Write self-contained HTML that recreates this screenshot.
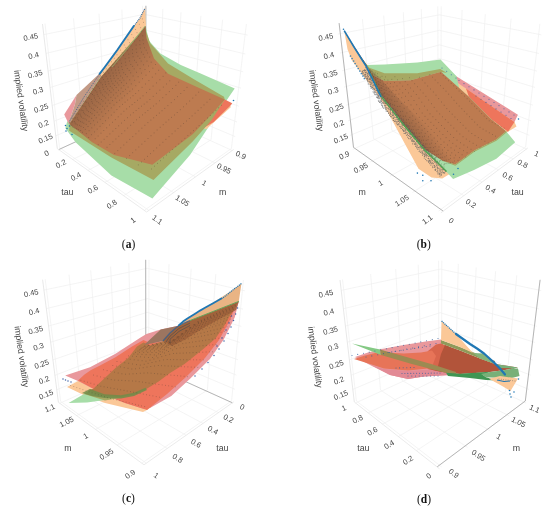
<!DOCTYPE html>
<html lang="en"><head><meta charset="utf-8"><title>Implied volatility surfaces</title>
<style>html,body{margin:0;padding:0;background:#fff}body{width:550px;height:508px;overflow:hidden}svg{display:block}</style>
</head><body>
<svg width="550" height="508" viewBox="0 0 550 508" font-family="'Liberation Sans', sans-serif">
<rect width="550" height="508" fill="#fff"/>
<g id="panel-a">
<line x1="58.7" y1="149.6" x2="145.7" y2="109.7" stroke="#efefef" stroke-width="0.7"/>
<line x1="72.7" y1="159.5" x2="160.3" y2="116.3" stroke="#efefef" stroke-width="0.7"/>
<line x1="88.1" y1="170.4" x2="176" y2="123.4" stroke="#efefef" stroke-width="0.7"/>
<line x1="104.9" y1="182.4" x2="193" y2="131.1" stroke="#efefef" stroke-width="0.7"/>
<line x1="123.6" y1="195.7" x2="211.4" y2="139.5" stroke="#efefef" stroke-width="0.7"/>
<line x1="144.3" y1="210.4" x2="231.4" y2="148.5" stroke="#efefef" stroke-width="0.7"/>
<line x1="59.4" y1="147.6" x2="148.8" y2="210.4" stroke="#efefef" stroke-width="0.7"/>
<line x1="83.3" y1="136.7" x2="173.6" y2="192.6" stroke="#efefef" stroke-width="0.7"/>
<line x1="105" y1="126.9" x2="195.5" y2="176.9" stroke="#efefef" stroke-width="0.7"/>
<line x1="124.7" y1="117.9" x2="214.9" y2="162.9" stroke="#efefef" stroke-width="0.7"/>
<line x1="142.8" y1="109.7" x2="232.2" y2="150.5" stroke="#efefef" stroke-width="0.7"/>
<line x1="59.5" y1="147.6" x2="45" y2="23.5" stroke="#efefef" stroke-width="0.7"/>
<line x1="83.8" y1="136.5" x2="73.5" y2="18.4" stroke="#efefef" stroke-width="0.7"/>
<line x1="105.6" y1="126.6" x2="99" y2="13.7" stroke="#efefef" stroke-width="0.7"/>
<line x1="125.1" y1="117.7" x2="121.9" y2="9.6" stroke="#efefef" stroke-width="0.7"/>
<line x1="142.8" y1="109.6" x2="142.6" y2="5.8" stroke="#efefef" stroke-width="0.7"/>
<line x1="55.8" y1="135.8" x2="144.2" y2="98.3" stroke="#efefef" stroke-width="0.7"/>
<line x1="54" y1="121.2" x2="144.2" y2="86.2" stroke="#efefef" stroke-width="0.7"/>
<line x1="52.2" y1="105.5" x2="144.2" y2="73.2" stroke="#efefef" stroke-width="0.7"/>
<line x1="50" y1="87.5" x2="144.2" y2="58.3" stroke="#efefef" stroke-width="0.7"/>
<line x1="48.1" y1="71.1" x2="144.2" y2="44.6" stroke="#efefef" stroke-width="0.7"/>
<line x1="46" y1="53.4" x2="144.2" y2="29.9" stroke="#efefef" stroke-width="0.7"/>
<line x1="43.8" y1="34.6" x2="144.2" y2="14.3" stroke="#efefef" stroke-width="0.7"/>
<line x1="145.6" y1="109.7" x2="145.9" y2="5.8" stroke="#efefef" stroke-width="0.7"/>
<line x1="160" y1="116.2" x2="162.8" y2="8.9" stroke="#efefef" stroke-width="0.7"/>
<line x1="175.6" y1="123.2" x2="181" y2="12.2" stroke="#efefef" stroke-width="0.7"/>
<line x1="192.6" y1="130.9" x2="200.9" y2="15.8" stroke="#efefef" stroke-width="0.7"/>
<line x1="211.1" y1="139.3" x2="222.6" y2="19.7" stroke="#efefef" stroke-width="0.7"/>
<line x1="231.4" y1="148.5" x2="246.4" y2="24" stroke="#efefef" stroke-width="0.7"/>
<line x1="144.2" y1="98.3" x2="235.2" y2="136.6" stroke="#efefef" stroke-width="0.7"/>
<line x1="144.2" y1="86.2" x2="237" y2="122" stroke="#efefef" stroke-width="0.7"/>
<line x1="144.2" y1="73.2" x2="238.9" y2="106.2" stroke="#efefef" stroke-width="0.7"/>
<line x1="144.2" y1="58.3" x2="241.1" y2="88.2" stroke="#efefef" stroke-width="0.7"/>
<line x1="144.2" y1="44.6" x2="243.2" y2="71.8" stroke="#efefef" stroke-width="0.7"/>
<line x1="144.2" y1="29.9" x2="245.4" y2="54" stroke="#efefef" stroke-width="0.7"/>
<line x1="144.2" y1="14.3" x2="247.7" y2="35.1" stroke="#efefef" stroke-width="0.7"/>
<line x1="58.7" y1="149.6" x2="145.7" y2="109.7" stroke="#999999" stroke-width="0.7"/>
<line x1="145.6" y1="109.7" x2="145.9" y2="5.8" stroke="#999999" stroke-width="0.7"/>
<line x1="57.3" y1="148.6" x2="42.5" y2="24" stroke="#e2e2e2" stroke-width="0.8"/>
<line x1="57.3" y1="148.6" x2="146.6" y2="212" stroke="#e6e6e6" stroke-width="0.8"/>
<line x1="146.6" y1="212" x2="233.6" y2="149.5" stroke="#e6e6e6" stroke-width="0.8"/>
<polygon points="65.4,128.2 75.6,142.2 111.4,175.5 152.4,198.5 190,155 213.8,119 234.7,88.4 201.2,73.8 180.8,64.9 160.4,53.4 149,40.7 145.5,25.4 145,12 117.8,50 100,74 67,122" fill="#a7dda8"/>
<polygon points="145,7.5 146,26 138,36 100,78 99.6,73.9 117.3,50 140,17.9" fill="#fbc898"/>
<polygon points="231,107 206.4,129 200,128 224.8,99.5" fill="#fbc898"/>
<polygon points="64.2,114.6 76.5,95.1 75,104 68.5,123.5" fill="#e9989c"/>
<polygon points="76.5,95.1 99.6,73.5 101,76 69.5,124.3 68.5,123.5 75,104" fill="#c39a86"/>
<polygon points="224.8,99.5 232.2,103.2 231,105 213.8,122 200,130" fill="#ee755c"/>
<polygon points="69.2,130.7 111.4,157.6 153.5,180 192.9,141.3 211.3,120.4 224.8,99.5 224,96.7 193.5,78.9 168,63.6 150.3,43.3 145.5,30 145.5,26 101,77 69.5,124" fill="#a6a963"/>
<polygon points="69.5,124 92.2,142.2 114,155 152.3,164.7 192.9,133.9 210,116 224.8,99.5 198.6,87.8 168,73.8 154,58.5 146.5,38.2 145.5,26 138,36 101,77" fill="#bd7b50"/>
<defs><linearGradient id="ga" gradientUnits="userSpaceOnUse" x1="100" y1="78" x2="128" y2="100"><stop offset="0" stop-color="#5a4032" stop-opacity="0.38"/><stop offset="1" stop-color="#5a4032" stop-opacity="0"/></linearGradient></defs>
<polygon points="69.5,124 101,77 138,36 145.5,26 146.5,38.2 154,58.5 168,73.8 160,100 125,140 92,142" fill="url(#ga)"/>
<path d="M69.5 122.6h0M72.3 118.4h0M75.2 114.1h0M78 109.8h0M80.9 105.5h0M83.7 101.3h0M86.6 97h0M89.4 92.7h0M92.3 88.5h0M95.1 84.2h0M98 79.9h0M100.8 75.8h0M103.5 72.3h0M106.2 68.8h0M108.9 65.3h0M111.6 61.8h0M114.3 58.3h0M117 54.8h0M120.5 50.1h0M124.2 45h0M128 39.8h0M131.8 34.6h0M135.5 29.5h0M139.3 24.3h0M142.3 18.9h0M71.1 122.1h0M74 118h0M76.8 113.9h0M79.6 109.8h0M82.5 105.8h0M85.3 101.7h0M88.1 97.6h0M91 93.5h0M93.8 89.4h0M96.6 85.3h0M99.5 81.2h0M102.2 77.6h0M104.9 74.2h0M107.6 70.9h0M110.3 67.6h0M113 64.3h0M115.6 60.9h0M118.3 57.6h0M122.1 52.6h0M125.8 47.6h0M129.5 42.7h0M133.3 37.7h0M137 32.7h0M140.7 27.7h0M143.4 22.4h0M69.9 125.7h0M72.7 121.8h0M75.6 117.9h0M78.4 114h0M81.2 110.1h0M84 106.2h0M86.8 102.3h0M89.6 98.4h0M92.4 94.5h0M95.2 90.6h0M98.1 86.7h0M100.9 82.8h0M103.6 79.5h0M106.2 76.3h0M108.9 73.2h0M111.6 70h0M114.2 66.9h0M116.9 63.7h0M119.9 60.1h0M123.5 55.3h0M127.2 50.6h0M130.9 45.8h0M134.6 41h0M138.3 36.2h0M141.7 31.4h0M71.7 125.3h0M74.5 121.6h0M77.3 117.9h0M80.1 114.2h0M82.9 110.5h0M85.7 106.9h0M88.5 103.2h0M91.3 99.5h0M94.1 95.8h0M96.9 92.1h0M99.6 88.4h0M102.4 84.8h0M105.1 81.9h0M107.7 78.9h0M110.3 76h0M113 73.1h0M115.6 70.1h0M118.3 67.2h0M121.5 63.3h0M125.2 58.7h0M128.8 54.2h0M132.5 49.7h0M136.1 45.1h0M139.8 40.6h0M142.8 35.8h0M72.3 126.6h0M75.1 123h0M77.9 119.5h0M80.7 115.9h0M83.5 112.3h0M86.2 108.7h0M89 105.1h0M91.8 101.6h0M94.6 98h0M97.3 94.4h0M100.1 90.8h0M102.9 87.3h0M105.5 84.4h0M108.2 81.5h0M110.8 78.7h0M113.4 75.9h0M116 73h0M118.7 70.2h0M121.7 66.7h0M125.4 62.2h0M129 57.8h0M132.6 53.4h0M136.2 49h0M139.9 44.6h0M143 40h0M73.2 127.5h0M76 124.1h0M78.8 120.6h0M81.5 117.1h0M84.3 113.7h0M87.1 110.2h0M89.8 106.7h0M92.6 103.3h0M95.4 99.8h0M98.1 96.3h0M100.9 92.9h0M103.7 89.4h0M106.3 86.6h0M108.9 83.8h0M111.5 81.1h0M114.1 78.4h0M116.7 75.6h0M119.3 72.9h0M122.3 69.5h0M125.9 65.3h0M129.5 61h0M133.1 56.7h0M136.7 52.4h0M140.3 48.1h0M143.5 43.7h0M74.9 128.2h0M77.6 124.9h0M80.4 121.6h0M83.1 118.3h0M85.9 114.9h0M88.6 111.6h0M91.4 108.3h0M94.1 105h0M96.9 101.6h0M99.6 98.3h0M102.4 95h0M105.1 91.7h0M107.7 89h0M110.3 86.4h0M112.9 83.8h0M115.5 81.2h0M118.1 78.6h0M120.7 76h0M123.7 72.7h0M127.3 68.6h0M130.8 64.5h0M134.4 60.3h0M137.9 56.2h0M141.5 52.1h0M144.6 47.8h0M76.7 128.7h0M79.5 125.4h0M82.2 122.2h0M85 118.9h0M87.7 115.7h0M90.5 112.5h0M93.2 109.2h0M95.9 106h0M98.7 102.7h0M101.4 99.5h0M104.2 96.3h0M106.9 93.1h0M109.5 90.6h0M112.1 88h0M114.7 85.5h0M117.3 83h0M119.9 80.5h0M122.5 77.9h0M125.6 74.5h0M129.2 70.4h0M132.7 66.4h0M136.2 62.4h0M139.8 58.4h0M143.3 54.4h0M146.2 50.2h0M78.3 129.5h0M81 126.3h0M83.8 123.2h0M86.5 120h0M89.2 116.8h0M92 113.7h0M94.7 110.5h0M97.5 107.4h0M100.2 104.2h0M103 101.1h0M105.7 97.9h0M108.4 94.9h0M111 92.4h0M113.6 89.9h0M116.2 87.5h0M118.8 85h0M121.4 82.6h0M123.9 80.1h0M127.2 76.7h0M130.7 72.8h0M134.2 68.9h0M137.7 65h0M141.2 61.1h0M144.7 57.2h0M147.5 53h0M80.7 130.5h0M83.5 127.5h0M86.2 124.4h0M89 121.4h0M91.7 118.4h0M94.5 115.4h0M97.2 112.3h0M99.9 109.3h0M102.7 106.3h0M105.4 103.2h0M108.2 100.2h0M110.9 97.4h0M113.5 95h0M116.1 92.7h0M118.6 90.3h0M121.2 88h0M123.8 85.6h0M126.4 83.3h0M129.7 79.8h0M133.1 76h0M136.6 72.3h0M140.1 68.6h0M143.5 64.8h0M147 61.1h0M149.7 57.1h0M82.5 132.3h0M85.3 129.4h0M88 126.5h0M90.7 123.6h0M93.5 120.7h0M96.2 117.8h0M99 114.9h0M101.7 112h0M104.4 109.1h0M107.2 106.2h0M109.9 103.3h0M112.6 100.5h0M115.3 98.2h0M117.8 96h0M120.4 93.8h0M123 91.5h0M125.5 89.3h0M128.1 87.1h0M131.3 83.9h0M134.7 80.3h0M138.1 76.7h0M141.5 73.1h0M145 69.5h0M148.4 66h0M151.2 62.2h0M86.3 133.6h0M89.1 130.7h0M91.8 127.9h0M94.6 125h0M97.4 122.2h0M100.2 119.3h0M102.9 116.4h0M105.7 113.6h0M108.5 110.7h0M111.3 107.9h0M114 105h0M116.8 102.4h0M119.4 100.2h0M122 98h0M124.6 95.8h0M127.2 93.6h0M129.8 91.3h0M132.4 89.1h0M135.8 85.7h0M139.2 82.2h0M142.6 78.7h0M146 75.2h0M149.4 71.7h0M152.9 68.2h0M155.5 64.5h0M88.7 137.5h0M91.6 134.7h0M94.4 131.9h0M97.2 129.1h0M100 126.3h0M102.8 123.5h0M105.6 120.7h0M108.5 117.9h0M111.3 115.1h0M114.1 112.3h0M116.9 109.5h0M119.7 106.7h0M122.5 104.4h0M125.1 102.2h0M127.7 100h0M130.4 97.9h0M133 95.7h0M135.7 93.5h0M138.7 90.7h0M142.1 87.4h0M145.5 84h0M148.9 80.6h0M152.3 77.2h0M155.7 73.8h0M158.7 70.3h0M95.2 138.7h0M98.1 136h0M101 133.2h0M103.8 130.5h0M106.7 127.8h0M109.6 125h0M112.4 122.3h0M115.3 119.6h0M118.2 116.8h0M121.1 114.1h0M123.9 111.3h0M126.7 108.9h0M129.5 106.7h0M132.1 104.6h0M134.8 102.5h0M137.5 100.3h0M140.2 98.2h0M143 95.8h0M146.4 92.6h0M149.8 89.4h0M153.1 86.1h0M156.5 82.9h0M159.9 79.7h0M163.1 76.4h0M165.8 72.9h0M98.2 144.7h0M101.2 142h0M104.1 139.3h0M107 136.6h0M109.9 133.9h0M112.9 131.2h0M115.8 128.5h0M118.7 125.8h0M121.6 123.1h0M124.6 120.4h0M127.5 117.7h0M130.4 115h0M133.3 112.7h0M136.1 110.5h0M138.8 108.4h0M141.5 106.2h0M144.2 104.1h0M147 102h0M149.9 99.5h0M153.2 96.4h0M156.6 93.3h0M159.9 90.2h0M163.3 87.1h0M166.6 84h0M169.8 80.8h0M107 147.3h0M109.9 144.5h0M112.9 141.8h0M115.9 139h0M118.8 136.3h0M121.8 133.6h0M124.8 130.8h0M127.7 128.1h0M130.7 125.3h0M133.7 122.6h0M136.6 119.8h0M139.5 117.3h0M142.4 114.9h0M145.2 112.7h0M147.9 110.5h0M150.7 108.3h0M153.4 106h0M156.2 103.8h0M159.5 100.8h0M162.8 97.7h0M166.1 94.6h0M169.3 91.6h0M172.6 88.5h0M175.9 85.4h0M178.7 82.2h0M114.8 153.4h0M117.8 150.6h0M120.8 147.8h0M123.8 145h0M126.8 142.2h0M129.8 139.4h0M132.8 136.6h0M135.9 133.8h0M138.9 131h0M141.9 128.2h0M144.9 125.3h0M147.9 122.6h0M150.9 120.1h0M153.7 117.8h0M156.5 115.4h0M159.3 113.1h0M162 110.7h0M164.8 108.4h0M167.9 105.6h0M171.2 102.6h0M174.4 99.6h0M177.6 96.6h0M180.8 93.5h0M184.1 90.5h0M187 87.4h0M126.6 158.4h0M129.7 155.6h0M132.7 152.7h0M135.8 149.9h0M138.8 147h0M141.9 144.2h0M144.9 141.4h0M148 138.5h0M151 135.7h0M154.1 132.9h0M157.1 130h0M160.2 127.3h0M163.2 124.7h0M166 122.2h0M168.8 119.8h0M171.6 117.4h0M174.4 115h0M177.2 112.5h0M180.3 109.7h0M183.4 106.8h0M186.5 103.9h0M189.7 101h0M192.8 98.1h0M195.9 95.2h0M198.7 92.2h0M138.3 164.9h0M141.4 162.1h0M144.5 159.3h0M147.5 156.4h0M150.6 153.6h0M153.7 150.8h0M156.7 147.9h0M159.8 145.1h0M162.9 142.3h0M165.9 139.4h0M169 136.6h0M172.1 133.8h0M175.1 131h0M178 128.5h0M180.8 126h0M183.6 123.5h0M186.4 121h0M189.3 118.5h0M192.1 115.9h0M195.1 113.2h0M198.1 110.4h0M201.1 107.7h0M204 104.9h0M207 102.2h0M209.9 99.4h0M151.4 169h0M154.4 166.2h0M157.5 163.4h0M160.5 160.7h0M163.6 157.9h0M166.6 155.1h0M169.7 152.3h0M172.7 149.5h0M175.8 146.7h0M178.8 144h0M181.8 141.2h0M184.9 138.4h0M187.9 135.6h0M190.8 133.1h0M193.6 130.6h0M196.3 128.1h0M199.1 125.6h0M201.9 123.1h0M204.7 120.6h0M207.5 118h0M210.3 115.5h0M213.1 112.9h0M215.9 110.4h0M218.7 107.8h0M221.5 105.3h0" stroke="#4a3a30" stroke-opacity="0.42" stroke-width="0.9" stroke-linecap="round" fill="none"/>
<polyline points="144.6,9 140,17.9 133.8,26" fill="none" stroke="#3d6f9e" stroke-width="1.2" stroke-dasharray="1 0.9"/>
<polyline points="133.8,26 117.3,50 103.7,68.5 99.6,73.9" fill="none" stroke="#1f77b4" stroke-width="1.9" stroke-linecap="round"/>
<polyline points="145,26 128,48 112,67" fill="none" stroke="#8fbf7a" stroke-width="0.7"/>
<polyline points="99.6,73.9 84,97 69,122" fill="none" stroke="#5b6f86" stroke-width="1.0" stroke-dasharray="1.2 1"/>
<path d="M65.5 125.5h0M67 128.5h0M66 131h0M72 134.5h0M69.5 126h0" stroke="#1f77b4" stroke-width="1.6" stroke-linecap="round"/>
<path d="M233.5 100.5h0" stroke="#1f77b4" stroke-width="1.6" stroke-linecap="round"/>
<text x="30.7" y="37.2" font-size="7.6" fill="#444" text-anchor="middle" dominant-baseline="central" transform="rotate(-11.4 30.7 37.2)">0.45</text>
<text x="33.6" y="55.6" font-size="7.6" fill="#444" text-anchor="middle" dominant-baseline="central" transform="rotate(-13.4 33.6 55.6)">0.4</text>
<text x="35.2" y="74.2" font-size="7.6" fill="#444" text-anchor="middle" dominant-baseline="central" transform="rotate(-15.4 35.2 74.2)">0.35</text>
<text x="38" y="90.8" font-size="7.6" fill="#444" text-anchor="middle" dominant-baseline="central" transform="rotate(-17.3 38 90.8)">0.3</text>
<text x="41.2" y="108.2" font-size="7.6" fill="#444" text-anchor="middle" dominant-baseline="central" transform="rotate(-19.3 41.2 108.2)">0.25</text>
<text x="43.6" y="124" font-size="7.6" fill="#444" text-anchor="middle" dominant-baseline="central" transform="rotate(-21.2 43.6 124)">0.2</text>
<text x="45.6" y="138.6" font-size="7.6" fill="#444" text-anchor="middle" dominant-baseline="central" transform="rotate(-22.9 45.6 138.6)">0.15</text>
<text x="21.3" y="100.6" font-size="8.8" fill="#444" text-anchor="middle" dominant-baseline="central" transform="rotate(82 21.3 100.6)">implied volatility</text>
<text x="46.7" y="153.3" font-size="7.6" fill="#444" text-anchor="middle" dominant-baseline="central" transform="rotate(-24.7 46.7 153.3)">0</text>
<text x="60.9" y="163.8" font-size="7.6" fill="#444" text-anchor="middle" dominant-baseline="central" transform="rotate(-26.3 60.9 163.8)">0.2</text>
<text x="75.9" y="176.6" font-size="7.6" fill="#444" text-anchor="middle" dominant-baseline="central" transform="rotate(-28.1 75.9 176.6)">0.4</text>
<text x="92.9" y="189.3" font-size="7.6" fill="#444" text-anchor="middle" dominant-baseline="central" transform="rotate(-30.2 92.9 189.3)">0.6</text>
<text x="111.9" y="204.3" font-size="7.6" fill="#444" text-anchor="middle" dominant-baseline="central" transform="rotate(-32.6 111.9 204.3)">0.8</text>
<text x="133.1" y="220.2" font-size="7.6" fill="#444" text-anchor="middle" dominant-baseline="central" transform="rotate(-35.4 133.1 220.2)">1</text>
<text x="157.3" y="219.8" font-size="7.6" fill="#444" text-anchor="middle" dominant-baseline="central" transform="rotate(35.1 157.3 219.8)">1.1</text>
<text x="182.4" y="200.7" font-size="7.6" fill="#444" text-anchor="middle" dominant-baseline="central" transform="rotate(31.8 182.4 200.7)">1.05</text>
<text x="204.2" y="183" font-size="7.6" fill="#444" text-anchor="middle" dominant-baseline="central" transform="rotate(29 204.2 183)">1</text>
<text x="224" y="168.5" font-size="7.6" fill="#444" text-anchor="middle" dominant-baseline="central" transform="rotate(26.6 224 168.5)">0.95</text>
<text x="240.8" y="155.2" font-size="7.6" fill="#444" text-anchor="middle" dominant-baseline="central" transform="rotate(24.5 240.8 155.2)">0.9</text>
<text x="67.4" y="192.2" font-size="8.8" fill="#444" text-anchor="middle" dominant-baseline="central">tau</text>
<text x="222.6" y="192.2" font-size="8.8" fill="#444" text-anchor="middle" dominant-baseline="central">m</text>
</g>
<g id="panel-b">
<line x1="352.7" y1="149.4" x2="440.9" y2="109.6" stroke="#efefef" stroke-width="0.7"/>
<line x1="370.2" y1="162" x2="459" y2="117.6" stroke="#efefef" stroke-width="0.7"/>
<line x1="390" y1="176.2" x2="479" y2="126.4" stroke="#efefef" stroke-width="0.7"/>
<line x1="412.6" y1="192.4" x2="501" y2="136.2" stroke="#efefef" stroke-width="0.7"/>
<line x1="438.6" y1="211.1" x2="525.6" y2="147" stroke="#efefef" stroke-width="0.7"/>
<line x1="353.5" y1="147.4" x2="443.2" y2="211.1" stroke="#efefef" stroke-width="0.7"/>
<line x1="373.5" y1="138.5" x2="463.8" y2="195.7" stroke="#efefef" stroke-width="0.7"/>
<line x1="391.8" y1="130.3" x2="482.1" y2="182.1" stroke="#efefef" stroke-width="0.7"/>
<line x1="408.5" y1="122.8" x2="498.5" y2="169.9" stroke="#efefef" stroke-width="0.7"/>
<line x1="423.9" y1="116" x2="513.2" y2="158.9" stroke="#efefef" stroke-width="0.7"/>
<line x1="438.1" y1="109.6" x2="526.5" y2="149" stroke="#efefef" stroke-width="0.7"/>
<line x1="353.5" y1="147.4" x2="339.1" y2="23.1" stroke="#efefef" stroke-width="0.7"/>
<line x1="373.5" y1="138.5" x2="362.4" y2="19.1" stroke="#efefef" stroke-width="0.7"/>
<line x1="391.8" y1="130.3" x2="383.7" y2="15.5" stroke="#efefef" stroke-width="0.7"/>
<line x1="408.5" y1="122.9" x2="403.3" y2="12.2" stroke="#efefef" stroke-width="0.7"/>
<line x1="423.9" y1="116" x2="421.3" y2="9.1" stroke="#efefef" stroke-width="0.7"/>
<line x1="438.1" y1="109.6" x2="437.8" y2="6.3" stroke="#efefef" stroke-width="0.7"/>
<line x1="349.8" y1="135.5" x2="439.5" y2="98.4" stroke="#efefef" stroke-width="0.7"/>
<line x1="348" y1="120.9" x2="439.5" y2="86.3" stroke="#efefef" stroke-width="0.7"/>
<line x1="346.2" y1="105.2" x2="439.5" y2="73.4" stroke="#efefef" stroke-width="0.7"/>
<line x1="344" y1="87.2" x2="439.5" y2="58.5" stroke="#efefef" stroke-width="0.7"/>
<line x1="342.1" y1="70.7" x2="439.5" y2="44.9" stroke="#efefef" stroke-width="0.7"/>
<line x1="340" y1="53" x2="439.5" y2="30.3" stroke="#efefef" stroke-width="0.7"/>
<line x1="337.8" y1="34.1" x2="439.5" y2="14.8" stroke="#efefef" stroke-width="0.7"/>
<line x1="440.9" y1="109.6" x2="441.2" y2="6.3" stroke="#efefef" stroke-width="0.7"/>
<line x1="458.9" y1="117.6" x2="462.1" y2="10" stroke="#efefef" stroke-width="0.7"/>
<line x1="478.7" y1="126.3" x2="485.3" y2="14.1" stroke="#efefef" stroke-width="0.7"/>
<line x1="500.9" y1="136.1" x2="511.1" y2="18.7" stroke="#efefef" stroke-width="0.7"/>
<line x1="525.6" y1="147" x2="539.9" y2="23.8" stroke="#efefef" stroke-width="0.7"/>
<line x1="439.5" y1="98.4" x2="529.3" y2="135.3" stroke="#efefef" stroke-width="0.7"/>
<line x1="439.5" y1="86.3" x2="531" y2="120.8" stroke="#efefef" stroke-width="0.7"/>
<line x1="439.5" y1="73.4" x2="532.9" y2="105.2" stroke="#efefef" stroke-width="0.7"/>
<line x1="439.5" y1="58.5" x2="535" y2="87.4" stroke="#efefef" stroke-width="0.7"/>
<line x1="439.5" y1="44.9" x2="536.9" y2="71.1" stroke="#efefef" stroke-width="0.7"/>
<line x1="439.5" y1="30.3" x2="539" y2="53.5" stroke="#efefef" stroke-width="0.7"/>
<line x1="439.5" y1="14.8" x2="541.3" y2="34.8" stroke="#efefef" stroke-width="0.7"/>
<line x1="353.5" y1="147.4" x2="443.2" y2="211.1" stroke="#999999" stroke-width="0.7"/>
<line x1="353.5" y1="147.4" x2="339.1" y2="23.1" stroke="#999999" stroke-width="0.7"/>
<line x1="440.9" y1="212.8" x2="527.8" y2="148" stroke="#e6e6e6" stroke-width="0.8"/>
<polygon points="344.2,30.7 347.5,49.3 351.8,60.2 366.5,80 379.5,97.3 392.5,121.1 406.6,147.1 418.5,168.8 431.5,177.4 442.3,178.5 472.5,160 506,133 516.5,126.5 514.5,122 455,76 366,65 354,47" fill="#fbc898"/>
<polygon points="441.3,72 455,75.5 517.9,114.8 514.5,122 466,88.5" fill="#e9989c"/>
<polygon points="466,88.5 514.5,122 508,131.8 490.9,118.9 468.9,96.8" fill="#ee755c"/>
<polygon points="344.2,30.7 354,47.1 366,65 384.5,64.5 417.3,62.4 440.5,59.6 456.5,76.2 459.2,88 468.9,96.8 490.9,118.9 506.1,131.3 515.2,142.3 496.4,158.8 474,170 453.1,179 446.6,172 425,151.5 403.3,125.5 381,97 366,66" fill="#a7dda8"/>
<polygon points="360,56 369.3,67.8 384.5,73.3 417.3,73.3 440.2,68.9 447,73 441.3,72 439.1,72.2 410.7,80.3 384.5,80.9 373.6,75.5 362,60" fill="#a6a963"/>
<polygon points="344.2,30.7 354,47.1 366,65.6 373.6,75.5 384.5,80.9 410.7,80.3 439.1,72.2 441.3,72 468.9,96.8 490.9,118.9 506.1,131.3 496.4,139.6 474.4,150.6 455.3,164.5 443,161 425,149.5 403.3,123.5 381,95 366,64 354,46" fill="#bd7b50"/>
<polygon points="443,161 455.3,165.8 474.4,151.8 496.4,140.8 507,132 506.1,131.3 496.4,139.6 474.4,150.6 455.3,164.5" fill="#a6a963"/>
<defs><linearGradient id="gb" gradientUnits="userSpaceOnUse" x1="403" y1="124" x2="418" y2="113"><stop offset="0" stop-color="#5a4032" stop-opacity="0.4"/><stop offset="1" stop-color="#5a4032" stop-opacity="0"/></linearGradient></defs>
<polygon points="344.2,30.7 354,47.1 366,65.6 380,78 400,100 430,130 462,158 455.3,164.5 443,161 425,149.5 403.3,123.5 381,95 366,64 354,46" fill="url(#gb)"/>
<path d="M350 40.2h0M353 45.2h0M356.1 50.2h0M359.5 55.6h0M362.9 61h0M366.4 66.4h0M369.8 72.4h0M373.1 79.2h0M376.5 86h0M379.8 92.8h0M383.1 99.6h0M386.9 104.4h0M390.7 109.2h0M394.5 113.9h0M398.3 118.7h0M402.1 123.5h0M406.1 128.4h0M410.4 133.4h0M414.7 138.5h0M419 143.6h0M423.3 148.6h0M427.7 153.4h0M432.4 157.6h0M437 161.8h0M441.7 166h0M353.7 46.4h0M356.7 51.2h0M359.8 56.1h0M363.1 61.3h0M366.5 66.5h0M369.9 71.7h0M373.2 77.9h0M376.4 84.5h0M379.7 91h0M382.9 97.6h0M386.3 103.6h0M390 108.2h0M393.8 112.8h0M397.5 117.4h0M401.2 121.9h0M404.9 126.5h0M408.9 131.3h0M413.2 136.1h0M417.4 141h0M421.6 145.9h0M425.8 150.7h0M430.2 155h0M434.8 159h0M439.4 163h0M444 167h0M354.5 47.7h0M357.4 52.3h0M360.3 56.9h0M363.4 61.7h0M366.7 66.7h0M370 71.7h0M373.3 76.7h0M376.5 83.1h0M379.6 89.4h0M382.8 95.8h0M386 102.2h0M389.4 107.4h0M393 111.8h0M396.7 116.2h0M400.3 120.5h0M404 124.9h0M407.6 129.3h0M411.6 134h0M415.8 138.6h0M419.9 143.3h0M424 147.9h0M428.1 152.5h0M432.6 156.4h0M437.1 160.2h0M441.6 164h0M358.3 53.7h0M361.1 58.2h0M364 62.6h0M367.1 67.3h0M370.3 72.1h0M373.6 76.9h0M376.8 82.1h0M379.8 88.2h0M382.9 94.4h0M386 100.5h0M389.1 106.6h0M392.6 111h0M396.2 115.2h0M399.7 119.4h0M403.3 123.6h0M406.8 127.8h0M410.5 132.1h0M414.5 136.5h0M418.5 141h0M422.5 145.4h0M426.6 149.9h0M430.7 154.1h0M435.1 157.7h0M439.5 161.3h0M443.9 164.9h0M360.8 57.7h0M363.6 61.9h0M366.4 66.1h0M369.3 70.6h0M372.5 75.2h0M375.7 79.8h0M378.8 84.6h0M381.8 90.5h0M384.8 96.4h0M387.9 102.3h0M390.9 108.2h0M394.2 112.7h0M397.7 116.7h0M401.2 120.7h0M404.6 124.7h0M408.1 128.7h0M411.6 132.7h0M415.5 137h0M419.5 141.3h0M423.4 145.5h0M427.4 149.7h0M431.4 153.9h0M435.7 157.3h0M440 160.7h0M444.3 164.1h0M363.6 62.1h0M366.3 66.1h0M369 70.1h0M371.9 74.3h0M375 78.7h0M378.1 83.1h0M381.2 87.7h0M384.1 93.4h0M387.1 99h0M390 104.7h0M393 110.4h0M396.2 114.8h0M399.6 118.6h0M403 122.5h0M406.4 126.3h0M409.8 130.1h0M413.2 133.9h0M417 137.9h0M420.8 142h0M424.7 146.1h0M428.6 150.1h0M432.5 154h0M436.7 157.2h0M440.9 160.4h0M445.1 163.6h0M367.8 68.6h0M370.4 72.4h0M373 76.1h0M375.9 80.1h0M378.9 84.3h0M381.9 88.4h0M384.8 92.8h0M387.7 98.1h0M390.5 103.5h0M393.4 108.9h0M396.2 114.3h0M399.4 118.3h0M402.7 121.8h0M406 125.4h0M409.3 128.9h0M412.5 132.5h0M415.8 136.1h0M419.6 139.9h0M423.3 143.7h0M427 147.5h0M430.8 151.2h0M434.6 154.8h0M438.7 157.7h0M442.8 160.7h0M446.9 163.6h0M370.1 70h0M372.7 73.8h0M375.3 77.5h0M378.2 81.5h0M381.2 85.5h0M384.1 89.6h0M387.1 94.1h0M389.9 99.4h0M392.7 104.7h0M395.6 110h0M398.4 115.3h0M401.6 118.9h0M404.9 122.4h0M408.1 125.9h0M411.4 129.4h0M414.6 133h0M418 136.5h0M421.7 140.3h0M425.4 144h0M429.1 147.7h0M432.8 151.3h0M436.7 154.8h0M440.7 157.7h0M444.8 160.5h0M448.9 163.4h0M372 71.1h0M374.7 74.8h0M377.3 78.4h0M380.1 82.4h0M383.1 86.4h0M386.1 90.4h0M389 94.9h0M391.8 100.1h0M394.6 105.3h0M397.5 110.5h0M400.3 115.7h0M403.5 119.2h0M406.7 122.7h0M409.9 126.1h0M413.2 129.6h0M416.4 133h0M419.7 136.5h0M423.4 140.2h0M427 143.9h0M430.7 147.6h0M434.5 151.1h0M438.3 154.4h0M442.3 157.3h0M446.3 160.1h0M450.4 162.9h0M375.2 72.9h0M377.8 76.5h0M380.4 80.1h0M383.3 84h0M386.2 87.9h0M389.2 91.8h0M392 96.3h0M394.8 101.4h0M397.7 106.5h0M400.5 111.6h0M403.3 116.4h0M406.5 119.8h0M409.7 123.2h0M412.9 126.6h0M416.1 130h0M419.2 133.3h0M422.6 136.8h0M426.2 140.4h0M429.8 144.1h0M433.4 147.6h0M437.1 151h0M440.9 154.1h0M444.9 156.9h0M448.9 159.6h0M452.9 162.3h0M377.6 73.7h0M380.2 77.2h0M382.8 80.8h0M385.7 84.5h0M388.6 88.3h0M391.5 92.2h0M394.4 96.5h0M397.1 101.4h0M399.9 106.4h0M402.7 111.3h0M405.5 116.2h0M408.6 119.6h0M411.8 122.9h0M414.9 126.2h0M418.1 129.5h0M421.2 132.8h0M424.5 136.2h0M428 139.7h0M431.6 143.2h0M435.2 146.7h0M438.8 150h0M442.6 153.1h0M446.5 155.7h0M450.4 158.4h0M454.4 161h0M382 76.3h0M384.6 79.7h0M387.2 83.2h0M390.1 86.9h0M392.9 90.6h0M395.8 94.3h0M398.6 98.7h0M401.4 103.5h0M404.2 108.3h0M406.9 113h0M409.8 117.4h0M412.9 120.6h0M416 123.8h0M419.1 127h0M422.1 130.2h0M425.2 133.4h0M428.5 136.8h0M432 140.2h0M435.5 143.6h0M439 146.9h0M442.6 150h0M446.4 152.8h0M450.3 155.3h0M454.1 157.9h0M458 160.4h0M385.4 76.9h0M387.9 80.1h0M390.5 83.4h0M393.2 86.8h0M396.1 90.4h0M398.9 94h0M401.7 97.7h0M404.5 102.3h0M407.2 106.8h0M410 111.4h0M412.7 115.9h0M415.6 119.3h0M418.7 122.4h0M421.7 125.5h0M424.7 128.6h0M427.7 131.6h0M430.8 134.7h0M434.2 138h0M437.5 141.3h0M441 144.5h0M444.5 147.5h0M448 150.4h0M451.8 152.8h0M455.6 155.2h0M459.4 157.6h0M391.8 79.4h0M394.4 82.6h0M397 85.9h0M399.8 89.3h0M402.7 92.8h0M405.5 96.3h0M408.3 100.5h0M411 104.9h0M413.7 109.3h0M416.5 113.6h0M419.3 117.4h0M422.3 120.4h0M425.2 123.4h0M428.2 126.4h0M431.2 129.5h0M434.2 132.5h0M437.4 135.7h0M440.7 138.9h0M444 142.1h0M447.5 145h0M451 147.8h0M454.6 150.2h0M458.3 152.5h0M462.1 154.8h0M465.8 157.1h0M394.9 76.7h0M397.4 79.8h0M400 82.9h0M402.7 86.2h0M405.6 89.5h0M408.4 92.9h0M411.2 96.3h0M414 100.5h0M416.7 104.7h0M419.5 108.8h0M422.2 113h0M425 116.4h0M427.9 119.4h0M430.9 122.4h0M433.8 125.4h0M436.7 128.4h0M439.7 131.3h0M442.9 134.5h0M446.1 137.6h0M449.3 140.7h0M452.8 143.4h0M456.2 146.1h0M459.8 148.4h0M463.5 150.6h0M467.1 152.8h0M402.5 78.6h0M405.2 81.6h0M407.8 84.7h0M410.6 88h0M413.4 91.2h0M416.3 94.5h0M419 98.2h0M421.8 102.2h0M424.5 106.2h0M427.3 110.1h0M430 113.8h0M432.9 116.7h0M435.8 119.6h0M438.7 122.5h0M441.5 125.5h0M444.4 128.4h0M447.4 131.4h0M450.6 134.4h0M453.7 137.5h0M457 140.2h0M460.4 142.7h0M463.9 145h0M467.4 147.2h0M471 149.3h0M474.6 151.4h0M409.4 77.7h0M412 80.7h0M414.7 83.7h0M417.5 86.7h0M420.3 89.9h0M423.1 93h0M425.9 96.4h0M428.7 100h0M431.4 103.7h0M434.2 107.4h0M436.9 111.1h0M439.7 113.9h0M442.5 116.8h0M445.3 119.6h0M448.1 122.4h0M450.9 125.3h0M453.8 128.1h0M456.8 131.1h0M459.8 134h0M463 136.7h0M466.3 139.1h0M469.7 141.3h0M473.1 143.3h0M476.6 145.3h0M480.1 147.3h0M419.6 77.3h0M422.3 80.1h0M425 83h0M427.7 86h0M430.5 89h0M433.3 92h0M436 95.2h0M438.7 98.6h0M441.5 102h0M444.2 105.3h0M446.8 108.6h0M449.5 111.4h0M452.2 114.2h0M454.9 117h0M457.6 119.7h0M460.3 122.5h0M463.1 125.3h0M465.9 128.2h0M468.8 131h0M471.8 133.5h0M475 135.6h0M478.3 137.6h0M481.6 139.5h0M484.9 141.3h0M488.3 143.2h0M429.9 74.5h0M432.5 77.2h0M435.2 80h0M437.9 82.8h0M440.6 85.6h0M443.3 88.4h0M446 91.2h0M448.7 94.2h0M451.4 97.2h0M454 100.3h0M456.7 103.3h0M459.2 106h0M461.8 108.7h0M464.3 111.4h0M466.9 114h0M469.5 116.7h0M472 119.4h0M474.7 122.1h0M477.3 124.8h0M480 127.4h0M483.1 129.2h0M486.1 131h0M489.3 132.8h0M492.4 134.5h0M495.5 136.2h0M440.5 73.1h0M443.2 75.6h0M445.8 78.2h0M448.5 80.7h0M451.2 83.3h0M453.8 85.8h0M456.5 88.4h0M459.1 91h0M461.8 93.5h0M464.5 96.1h0M467.1 98.7h0M469.5 101.2h0M471.9 103.7h0M474.4 106.2h0M476.8 108.6h0M479.3 111.1h0M481.7 113.6h0M484.2 116.1h0M486.7 118.6h0M489.2 120.8h0M492.2 122.3h0M495.2 123.8h0M498.1 125.3h0M501.1 126.7h0M504.1 128.2h0" stroke="#4a3a30" stroke-opacity="0.42" stroke-width="0.9" stroke-linecap="round" fill="none"/>
<path d="M362.3 71.4h0M362.5 72.8h0M362.9 74.1h0M364 75.6h0M365 77h0M365.9 78h0M366.9 79.1h0M367.4 80.8h0M368 81.8h0M368.3 83.9h0M370 84.6h0M370.4 86.6h0M371.4 86.9h0M371.1 88.3h0M372.9 89.5h0M373.1 91.8h0M374 92.8h0M374.5 94.1h0M375.8 94.6h0M376.5 97h0M377.2 97.5h0M378 98.5h0M378.4 100.8h0M378.9 101.3h0M379.5 102.3h0M381.2 103.8h0M381.8 105.5h0M382.6 106.9h0M383.8 108.2h0M385.5 108.9h0M386.2 110.9h0M387.3 111.5h0M388.5 113.5h0M389.6 115.2h0M390.7 116.4h0M391.3 116.8h0M393.1 118.4h0M393.4 120.4h0M394.7 121.4h0M396.3 122.9h0M397.2 124.1h0M397.9 124.8h0M399.7 126.3h0M400.8 127.9h0M401.5 128.5h0M403 130.2h0M403.6 131.5h0M404.2 133.4h0M405.7 133.6h0M406.8 135.3h0M407.8 137.2h0M408.7 138.6h0M410.1 138.8h0M411.5 140.9h0M412.7 141.6h0M412.7 143.8h0M414.4 144.1h0M415.6 146.2h0M416.8 147.5h0M417 147.9h0M417.9 149.3h0M419.2 151.6h0M420.7 152.5h0M422.1 153.3h0M422.5 155.1h0M424.4 156.4h0M424.3 158h0M425.7 159.3h0M426.9 160.7h0M428.4 161.6h0M428.8 162.3h0M429.8 163.6h0M430.9 165.1h0M432.7 166.8h0M432.9 167.6h0M435.1 169.5h0M435.3 170.4h0M437 171.6h0M437.9 173.8h0M439.3 174.3h0M439.9 176h0M362.6 71h0M363.3 72.9h0M364.7 74.3h0M365.1 76.1h0M366.2 76.6h0M366.9 78.4h0M367.8 79.1h0M367.8 80.5h0M369.2 81.6h0M370.1 82.7h0M370.3 84.9h0M371 86h0M372.1 87.6h0M372.6 87.9h0M373.9 90h0M374.8 91.5h0M374.5 92h0M376 94.1h0M377.2 94.9h0M377.9 96.3h0M378 97.4h0M379 98.8h0M380.2 100.5h0M380.3 101.9h0M380.9 102.2h0M381.9 103.9h0M382.8 105.8h0M384.9 106h0M385.2 107.6h0M386.2 109.5h0M387.5 111h0M388.9 112.2h0M390.3 113.5h0M390.9 114.4h0M392.4 115.4h0M393.1 117.1h0M393.6 118.4h0M395.2 119.9h0M396.1 121.4h0M397.5 121.8h0M398.8 123.6h0M399 124.7h0M400.9 126.6h0M401.1 128h0M402.6 129.3h0M404 130.4h0M405 131.5h0M405.8 132.7h0M407.4 134.3h0M408.5 135.5h0M409.7 136.3h0M410.5 137.8h0M411.3 139h0M412.4 140.2h0M413.7 141.7h0M415.2 143.3h0M415.3 144.3h0M416.6 146h0M418.3 147.4h0M419.1 148h0M419.7 150h0M421.1 151.2h0M422.3 152.4h0M423.3 153.8h0M424.4 154.7h0M425.2 155.6h0M426.3 156.9h0M428.1 158.3h0M429 160.4h0M429.9 161.4h0M430.4 162.6h0M431.7 163.6h0M433.1 165h0M434.5 167h0M434.8 167.3h0M435.8 169.1h0M437.5 170.1h0M438 172.1h0M439.3 173.2h0M440.2 173.8h0M441.2 175.2h0M363.7 70.5h0M364.3 70.8h0M365.2 72.2h0M365.6 74.2h0M365.8 74.9h0M367.6 76.8h0M367.9 78.1h0M369.2 79.4h0M369.8 79.8h0M370.3 81.8h0M371.1 83.2h0M371.1 84.5h0M372.7 85.2h0M372.9 86.9h0M373.8 88.4h0M374.6 89.7h0M376.1 90.4h0M375.8 92.4h0M377 93.8h0M377.9 95.1h0M378.6 95.8h0M378.8 96.9h0M379.5 98h0M381.1 99.1h0M381.4 101.4h0M382.7 102.5h0M383.2 103.5h0M384.8 105.4h0M385.4 105.9h0M386.5 107.8h0M387.9 108.2h0M389 109.7h0M390.4 111.1h0M390.6 112.8h0M392.7 113.8h0M393.6 115.3h0M394.5 117.1h0M395.9 117.3h0M396.8 119.2h0M398.2 120.2h0M398.5 121.3h0M399.7 122.6h0M401.1 124.8h0M402.2 126h0M402.9 127.4h0M404.1 128.7h0M405.4 129.2h0M405.8 130.4h0M406.9 132.2h0M408 133h0M409.9 134.7h0M410.9 136.1h0M411.7 137.4h0M412.8 139.1h0M413.8 140.5h0M414.4 141.7h0M415.6 142.8h0M416.5 144h0M417.6 145.8h0M419.8 146.9h0M420.9 147.5h0M421.1 148.8h0M422.7 151h0M424.2 152h0M425 153.6h0M425.7 154.1h0M426.5 155.2h0M428.3 156.6h0M428.8 158.7h0M429.9 160.2h0M430.9 161h0M432.1 162.7h0M433.2 163.4h0M434.5 165.3h0M435 166.4h0M437.1 166.9h0M437.7 168.5h0M439.2 170.1h0M440.1 171.3h0M441.1 172.4h0M441.4 174h0M364.4 70.1h0M364.9 70.3h0M365.6 72.5h0M367.1 73.6h0M367.8 74.2h0M367.6 75.5h0M368.6 76.7h0M369.7 78.3h0M370.7 79.3h0M371.4 80.7h0M372 82.1h0M372.1 83.2h0M373.6 84.9h0M374.2 85.8h0M375 88h0M376.1 88.8h0M377 90.5h0M377.3 90.8h0M377.5 92.1h0M378.7 93.7h0M380.1 94.8h0M380.8 96.8h0M381.4 97.9h0M382 99h0M382 100.2h0M383.6 101.9h0M384.6 102.9h0M385.3 103.7h0M387.2 105.4h0M388.5 106.5h0M388.8 108.2h0M390.4 109.4h0M390.7 110.6h0M392.3 112.3h0M393.7 112.9h0M393.9 114.7h0M395.9 115.4h0M396.8 117.5h0M397.7 119.1h0M399 119.3h0M399.9 121.6h0M401.4 122.7h0M402.3 123.9h0M402.9 125.2h0M404.5 126.2h0M405.8 127.4h0M406.7 128.8h0M407.8 130.2h0M409 131.5h0M409.3 133.3h0M410.5 134.5h0M412.2 135.2h0M412.6 136.5h0M413.6 138h0M414.6 139h0M416.4 141.1h0M416.8 141.7h0M418 143.9h0M419.7 144.7h0M420.3 146.4h0M421.6 147.8h0M423 148.6h0M423.4 150.5h0M424.5 150.8h0M425.9 152.4h0M426.7 154.1h0M427.8 155.3h0M429.6 156.1h0M430.5 158h0M431.6 159.1h0M432.3 160.6h0M434.1 161.5h0M435 162.4h0M436.2 163.9h0M436.7 165.3h0M437.5 167.3h0M438.9 168.2h0M440.1 169h0M440.9 170.2h0M442.3 171.8h0M443.2 172.9h0M364.9 69.8h0M365.8 70.5h0M366.4 72.1h0M367.3 73.1h0M368.8 73.9h0M369.3 75.3h0M370.3 77.2h0M370.4 78.6h0M371 79.9h0M372.4 80.7h0M373.4 82.3h0M374.4 83.1h0M374 85.2h0M375.8 86.2h0M376.2 87.5h0M377.3 88.4h0M378 90.1h0M378.6 91h0M379.5 91.8h0M380.3 94.2h0M380.4 94.5h0M381.2 96.1h0M382.7 97.6h0M382.8 98.4h0M383.7 100.3h0M384.8 101.4h0M386 103.2h0M387.1 103.9h0M388.5 105.1h0M389.3 106.5h0M390.6 108.4h0M391.5 109.6h0M392.6 110.8h0M393.3 111.8h0M395.3 113.3h0M396.3 114.5h0M397 116.2h0M397.6 117.2h0M399.7 118.4h0M399.9 120.1h0M401.1 121.3h0M402.5 122.9h0M403.7 124h0M404.1 125.5h0M405.3 126h0M407.4 127h0M408.3 129.3h0M409 129.9h0M410.5 131.4h0M410.8 133.3h0M412.8 134.1h0M413.8 135.3h0M414.7 136.6h0M415.6 137.6h0M417.3 139h0M417.3 140.2h0M418.3 142.1h0M420.1 143.5h0M421.1 144.8h0M422.4 146.1h0M423.1 147.3h0M424 148.2h0M425 149.6h0M426.2 150.9h0M428.2 152.1h0M429.3 153.8h0M429.7 155.4h0M431.1 155.9h0M432.4 157.5h0M432.9 158.6h0M434.4 159.9h0M435.6 161.2h0M436.4 162.7h0M437.9 164.5h0M438.2 165.5h0M440.1 166.6h0M441.2 167.7h0M442 169.5h0M442.6 170h0M443.9 172.4h0M444.6 173.1h0M365.8 67.6h0M366.8 69.1h0M367.5 69.9h0M368.3 71.1h0M368.7 72.6h0M369.4 73.5h0M370.5 75.6h0M371.3 76.8h0M371.5 77.5h0M372.7 79.7h0M373.1 80.5h0M374.1 81.8h0M374.6 82.9h0M375.5 84.8h0M376.9 85.6h0M377.4 86.5h0M378.1 88h0M379.3 89.7h0M379.8 90.4h0M380.4 92.7h0M381.7 93.6h0M381.5 94.9h0M382.8 96h0M383.4 97.4h0M384.7 98.9h0M385.3 100.4h0M385.8 101.8h0M386.9 102.1h0M388.4 103.3h0M389.8 104.6h0M390.5 105.9h0M392.1 107.9h0M392.8 108.6h0M394.3 110.1h0M395.5 111.6h0M396.3 112.3h0M397.5 114h0M398.1 115.4h0M399.4 116.8h0M401.2 118h0M402 119.5h0M403.3 120.6h0M403.6 122.5h0M404.5 123.9h0M406.2 124.5h0M407.8 125.4h0M408.3 126.7h0M409.5 128.2h0M410.7 130.4h0M412 131.1h0M412.9 132.8h0M413.8 133.8h0M414.5 134.9h0M415.6 136.7h0M417.1 137.6h0M418.7 139h0M419.2 140h0M419.9 141.5h0M420.9 142.6h0M422.6 144.8h0M423.2 145.7h0M424.8 147.1h0M425.4 147.6h0M426.9 149.8h0M427.7 151h0M428.9 151.7h0M429.7 153.2h0M431.2 154.8h0M431.9 155.5h0M433 156.8h0M434.8 158.4h0M435.5 159.9h0M437.4 161.5h0M438.2 163h0M438.5 163.2h0M440.1 164.9h0M441.8 166.3h0M442.4 168.1h0M443.4 169.4h0M444.2 170h0M445.4 171.6h0" stroke="#5e5e5e" stroke-opacity="0.75" stroke-width="1.2" stroke-linecap="round" fill="none"/>
<polyline points="370,73 381,96 403.3,124.5 425,150.5 446.6,171.5" fill="none" stroke="#4fa14f" stroke-width="1.2"/>
<polyline points="344.2,30.7 354,47 366,66 381,97" fill="none" stroke="#1f77b4" stroke-width="1.6"/>
<path d="M350.5 56.0h0M352.1 58.5h0M353.6 61.0h0M355.1 63.5h0M356.7 66.0h0M358.2 68.5h0M359.8 71.0h0M361.4 73.5h0M362.9 76.0h0M364.4 78.5h0" stroke="#1f77b4" stroke-width="1.7" stroke-linecap="round" stroke-opacity="0.85"/>
<path d="M459.0 80.5h0M464.0 83.6h0M469.0 86.8h0M474.0 89.9h0M479.0 93.0h0M484.0 96.2h0M489.0 99.3h0M494.0 102.5h0M499.0 105.6h0M504.0 108.7h0M509.0 111.9h0M514.0 115.0h0M476.0 96.0h0M481.0 99.2h0M486.0 102.4h0M491.0 105.6h0M496.0 108.9h0M501.0 112.1h0M506.0 115.3h0M511.0 118.5h0M442.0 68.0h0M446.7 71.3h0M451.3 74.7h0M456.0 78.0h0" stroke="#2f55a0" stroke-width="1.1" stroke-linecap="round" stroke-opacity="0.8"/>
<path d="M417.4 173.1h0M422.8 175.3h0M422.8 180.7h0M431 180.7h0M453.5 174.2h0M458 168.5h0M343.5 29.2h0M518.5 119h0" stroke="#1f77b4" stroke-width="1.6" stroke-linecap="round"/>
<text x="325.9" y="37.2" font-size="7.6" fill="#444" text-anchor="middle" dominant-baseline="central" transform="rotate(-10.8 325.9 37.2)">0.45</text>
<text x="328.8" y="55.6" font-size="7.6" fill="#444" text-anchor="middle" dominant-baseline="central" transform="rotate(-12.8 328.8 55.6)">0.4</text>
<text x="330.4" y="74.2" font-size="7.6" fill="#444" text-anchor="middle" dominant-baseline="central" transform="rotate(-14.8 330.4 74.2)">0.35</text>
<text x="333.2" y="90.8" font-size="7.6" fill="#444" text-anchor="middle" dominant-baseline="central" transform="rotate(-16.7 333.2 90.8)">0.3</text>
<text x="336.4" y="108.2" font-size="7.6" fill="#444" text-anchor="middle" dominant-baseline="central" transform="rotate(-18.8 336.4 108.2)">0.25</text>
<text x="338.8" y="124" font-size="7.6" fill="#444" text-anchor="middle" dominant-baseline="central" transform="rotate(-20.7 338.8 124)">0.2</text>
<text x="340.8" y="138.6" font-size="7.6" fill="#444" text-anchor="middle" dominant-baseline="central" transform="rotate(-22.5 340.8 138.6)">0.15</text>
<text x="316.5" y="100.6" font-size="8.8" fill="#444" text-anchor="middle" dominant-baseline="central" transform="rotate(82 316.5 100.6)">implied volatility</text>
<text x="344.4" y="155.3" font-size="7.6" fill="#444" text-anchor="middle" dominant-baseline="central" transform="rotate(-24.2 344.4 155.3)">0.9</text>
<text x="360.8" y="168" font-size="7.6" fill="#444" text-anchor="middle" dominant-baseline="central" transform="rotate(-26.5 360.8 168)">0.95</text>
<text x="380.7" y="183" font-size="7.6" fill="#444" text-anchor="middle" dominant-baseline="central" transform="rotate(-29.2 380.7 183)">1</text>
<text x="401.9" y="200.7" font-size="7.6" fill="#444" text-anchor="middle" dominant-baseline="central" transform="rotate(-32.4 401.9 200.7)">1.05</text>
<text x="427.3" y="219.5" font-size="7.6" fill="#444" text-anchor="middle" dominant-baseline="central" transform="rotate(-36.4 427.3 219.5)">1.1</text>
<text x="451.2" y="220.8" font-size="7.6" fill="#444" text-anchor="middle" dominant-baseline="central" transform="rotate(35.4 451.2 220.8)">0</text>
<text x="470.9" y="203.5" font-size="7.6" fill="#444" text-anchor="middle" dominant-baseline="central" transform="rotate(32.4 470.9 203.5)">0.2</text>
<text x="490.7" y="189.3" font-size="7.6" fill="#444" text-anchor="middle" dominant-baseline="central" transform="rotate(29.8 490.7 189.3)">0.4</text>
<text x="507.7" y="176.6" font-size="7.6" fill="#444" text-anchor="middle" dominant-baseline="central" transform="rotate(27.6 507.7 176.6)">0.6</text>
<text x="522.7" y="163.8" font-size="7.6" fill="#444" text-anchor="middle" dominant-baseline="central" transform="rotate(25.7 522.7 163.8)">0.8</text>
<text x="536.6" y="153.9" font-size="7.6" fill="#444" text-anchor="middle" dominant-baseline="central" transform="rotate(24 536.6 153.9)">1</text>
<text x="362.2" y="192.2" font-size="8.8" fill="#444" text-anchor="middle" dominant-baseline="central">m</text>
<text x="517.6" y="192.2" font-size="8.8" fill="#444" text-anchor="middle" dominant-baseline="central">tau</text>
</g>
<g id="panel-c">
<line x1="59.7" y1="403.3" x2="148.6" y2="363.6" stroke="#efefef" stroke-width="0.7"/>
<line x1="76.6" y1="415.6" x2="166.4" y2="371.6" stroke="#efefef" stroke-width="0.7"/>
<line x1="95.5" y1="429.4" x2="186" y2="380.4" stroke="#efefef" stroke-width="0.7"/>
<line x1="117.1" y1="445.1" x2="207.6" y2="390.1" stroke="#efefef" stroke-width="0.7"/>
<line x1="141.8" y1="463.2" x2="231.7" y2="400.8" stroke="#efefef" stroke-width="0.7"/>
<line x1="60.6" y1="401.3" x2="146.3" y2="463.2" stroke="#efefef" stroke-width="0.7"/>
<line x1="80.5" y1="392.5" x2="167.3" y2="448.5" stroke="#efefef" stroke-width="0.7"/>
<line x1="98.8" y1="384.4" x2="186.1" y2="435.3" stroke="#efefef" stroke-width="0.7"/>
<line x1="115.7" y1="377" x2="203" y2="423.4" stroke="#efefef" stroke-width="0.7"/>
<line x1="131.3" y1="370" x2="218.4" y2="412.6" stroke="#efefef" stroke-width="0.7"/>
<line x1="145.8" y1="363.6" x2="232.4" y2="402.8" stroke="#efefef" stroke-width="0.7"/>
<line x1="60.6" y1="401.3" x2="45.2" y2="279.2" stroke="#efefef" stroke-width="0.7"/>
<line x1="80.7" y1="392.4" x2="69" y2="274.6" stroke="#efefef" stroke-width="0.7"/>
<line x1="99.1" y1="384.3" x2="90.7" y2="270.4" stroke="#efefef" stroke-width="0.7"/>
<line x1="116" y1="376.8" x2="110.6" y2="266.6" stroke="#efefef" stroke-width="0.7"/>
<line x1="131.5" y1="370" x2="128.8" y2="263.1" stroke="#efefef" stroke-width="0.7"/>
<line x1="145.8" y1="363.6" x2="145.7" y2="259.8" stroke="#efefef" stroke-width="0.7"/>
<line x1="56.8" y1="389.7" x2="147.2" y2="352.3" stroke="#efefef" stroke-width="0.7"/>
<line x1="54.9" y1="375.3" x2="147.2" y2="340.2" stroke="#efefef" stroke-width="0.7"/>
<line x1="52.9" y1="359.9" x2="147.3" y2="327.2" stroke="#efefef" stroke-width="0.7"/>
<line x1="50.7" y1="342.2" x2="147.3" y2="312.3" stroke="#efefef" stroke-width="0.7"/>
<line x1="48.6" y1="326" x2="147.3" y2="298.6" stroke="#efefef" stroke-width="0.7"/>
<line x1="46.3" y1="308.6" x2="147.4" y2="283.9" stroke="#efefef" stroke-width="0.7"/>
<line x1="43.9" y1="290.1" x2="147.4" y2="268.3" stroke="#efefef" stroke-width="0.7"/>
<line x1="148.6" y1="363.6" x2="149" y2="259.8" stroke="#efefef" stroke-width="0.7"/>
<line x1="166.2" y1="371.5" x2="169" y2="264.1" stroke="#efefef" stroke-width="0.7"/>
<line x1="185.7" y1="380.2" x2="191.1" y2="268.8" stroke="#efefef" stroke-width="0.7"/>
<line x1="207.4" y1="390" x2="215.8" y2="274.1" stroke="#efefef" stroke-width="0.7"/>
<line x1="231.6" y1="400.8" x2="243.4" y2="280" stroke="#efefef" stroke-width="0.7"/>
<line x1="147.2" y1="352.3" x2="235" y2="389.3" stroke="#efefef" stroke-width="0.7"/>
<line x1="147.2" y1="340.2" x2="236.4" y2="375.1" stroke="#efefef" stroke-width="0.7"/>
<line x1="147.3" y1="327.2" x2="238" y2="359.8" stroke="#efefef" stroke-width="0.7"/>
<line x1="147.3" y1="312.3" x2="239.7" y2="342.4" stroke="#efefef" stroke-width="0.7"/>
<line x1="147.3" y1="298.6" x2="241.3" y2="326.4" stroke="#efefef" stroke-width="0.7"/>
<line x1="147.4" y1="283.9" x2="243" y2="309.1" stroke="#efefef" stroke-width="0.7"/>
<line x1="147.4" y1="268.3" x2="244.8" y2="290.8" stroke="#efefef" stroke-width="0.7"/>
<line x1="145.8" y1="363.6" x2="232.4" y2="402.8" stroke="#999999" stroke-width="0.7"/>
<line x1="145.8" y1="363.6" x2="145.7" y2="259.8" stroke="#999999" stroke-width="0.7"/>
<line x1="58.4" y1="402.3" x2="42.6" y2="279.7" stroke="#e2e2e2" stroke-width="0.8"/>
<line x1="58.4" y1="402.3" x2="144" y2="464.8" stroke="#e6e6e6" stroke-width="0.8"/>
<line x1="144" y1="464.8" x2="233.8" y2="401.8" stroke="#e6e6e6" stroke-width="0.8"/>
<polygon points="67,387 85.8,396 105,403 143,412 147,410 167,394 186,377 205,358 219,340 230,320 236,305 241.3,284.2 224.7,295 206.8,306.5 194,314.1 181.2,325.7 172.2,341 145,350 120,360 95,370 78,381" fill="#fbc898"/>
<polygon points="68.6,403 84,394 93,389 105,400 87,402.4" fill="#a7dda8"/>
<polygon points="65.2,375.4 90,367.3 115.5,353.8 128.2,345.6 141,337.3 146.4,334.1 160.7,329.5 178.6,325.7 199,319 238.8,301.4 234.7,317.6 223.7,339.6 209.9,358.9 190.6,378.2 171.3,396.1 150,408 144,409 125,403 105,395 78,381" fill="#e9989c"/>
<polygon points="78,380.5 84.5,374.5 91,370 100,365.5 115.5,357.3 132,346.5 143.5,340 150,343 172.2,341 199,319 236,305 230,320 219,340 205,358 186,377 167,394 147,410 144,409 125,403 105,395" fill="#ee755c"/>
<polygon points="84,394 93,389 112,386 125,397 105,400.5" fill="#a6a963"/>
<polygon points="88,390 96,393.5 104.5,396 121,397 134,394.5 145.5,389.5 158.6,381.4 170,373 184.5,364 202.7,349.5 215.5,338.6 224,326 231,314 236,305 238.8,301.4 190,320.5 179,325.5 170,333 163,341 150,345.5 143.5,342.6 137,346.5 128.2,358 115.5,368 102.7,380 93,389" fill="#b57847"/>
<polygon points="82,393 90,389 104.5,394.3 121,395.3 134,392.8 145.5,387.8 147,390 134,396 121,398.6 104.5,398 92,396" fill="#708c49" fill-opacity="0.85"/>
<polygon points="144,344.9 160.7,329.5 178.6,325.7 170,333 163,341" fill="#9c7560"/>
<polygon points="163,341 170,333 179,325.5 190,320.5 238.8,301.6 236,310 205,327 186,339 172,346" fill="#9c5f3a" fill-opacity="0.85"/>
<path d="M148 344.9h0M152.2 344.3h0M156.3 343.7h0M160.5 343.1h0M164.7 342.5h0M168.8 341.9h0M173 340.3h0M177.1 337.2h0M181.3 334.1h0M185.5 331h0M189.6 327.9h0M193.8 324.8h0M197.9 321.7h0M201.1 320.2h0M204.2 318.8h0M207.3 317.5h0M210.4 316.1h0M213.5 314.8h0M216.5 313.4h0M219.6 312h0M222.7 310.7h0M225.8 309.3h0M228.9 307.9h0M231.9 306.6h0M235 305.2h0M148.5 345.2h0M152.7 344.6h0M156.8 344.1h0M161 343.5h0M165.2 342.9h0M169.3 342.4h0M173.5 340h0M177.7 337h0M181.8 333.9h0M186 330.9h0M190.2 327.8h0M194.3 324.8h0M198.3 322.1h0M201.4 320.8h0M204.5 319.5h0M207.6 318.1h0M210.7 316.8h0M213.8 315.5h0M216.9 314.1h0M220 312.8h0M223.1 311.5h0M226.2 310.1h0M229.3 308.8h0M232.4 307.5h0M235.5 306.1h0M144.7 346h0M148.9 345.5h0M153 345h0M157.2 344.4h0M161.4 343.9h0M165.6 343.3h0M169.7 342.8h0M173.9 339.8h0M178.1 336.8h0M182.3 333.8h0M186.4 330.8h0M190.6 327.8h0M194.8 324.9h0M198.4 322.7h0M201.6 321.4h0M204.7 320.1h0M207.8 318.8h0M210.9 317.5h0M214.1 316.2h0M217.2 314.9h0M220.3 313.6h0M223.4 312.3h0M226.6 311h0M229.7 309.7h0M232.8 308.4h0M145 346.4h0M149.2 345.9h0M153.4 345.4h0M157.6 344.9h0M161.8 344.4h0M165.9 343.9h0M170.1 342.6h0M174.3 339.7h0M178.5 336.8h0M182.7 333.8h0M186.9 330.9h0M191 328h0M195.2 325.1h0M198.6 323.5h0M201.7 322.2h0M204.9 320.9h0M208 319.7h0M211.2 318.4h0M214.3 317.1h0M217.5 315.9h0M220.6 314.6h0M223.8 313.3h0M226.9 312.1h0M230.1 310.8h0M233.2 309.5h0M143.4 347.1h0M147.6 346.6h0M151.8 346.2h0M155.9 345.7h0M160.1 345.2h0M164.3 344.8h0M168.5 343.9h0M172.7 341.1h0M176.9 338.3h0M181.1 335.4h0M185.3 332.6h0M189.4 329.7h0M193.6 326.9h0M197.2 325.1h0M200.3 323.9h0M203.5 322.7h0M206.7 321.5h0M209.9 320.3h0M213 319.1h0M216.2 317.8h0M219.4 316.6h0M222.5 315.4h0M225.7 314.2h0M228.9 313h0M232.1 311.8h0M142.2 347.7h0M146.3 347.3h0M150.5 346.9h0M154.7 346.4h0M158.9 346h0M163.1 345.6h0M167.3 345h0M171.5 342.2h0M175.7 339.5h0M179.9 336.7h0M184.1 334h0M188.3 331.2h0M192.5 328.4h0M196.1 326.6h0M199.3 325.5h0M202.5 324.3h0M205.7 323.2h0M208.9 322h0M212 320.9h0M215.2 319.7h0M218.4 318.5h0M221.6 317.4h0M224.8 316.2h0M228 315.1h0M231.2 313.9h0M141.2 348.4h0M145.4 348.1h0M149.6 347.7h0M153.8 347.4h0M158 347h0M162.2 346.7h0M166.4 345.9h0M170.6 343.2h0M174.8 340.6h0M179 338h0M183.2 335.3h0M187.4 332.7h0M191.6 330.1h0M195.1 328.5h0M198.4 327.4h0M201.6 326.3h0M204.8 325.2h0M208 324.1h0M211.3 323.1h0M214.5 322h0M217.7 320.9h0M220.9 319.8h0M224.2 318.7h0M227.4 317.6h0M230.6 316.6h0M140.6 349.2h0M144.8 348.9h0M149 348.6h0M153.2 348.3h0M157.4 348h0M161.6 347.7h0M165.8 346.7h0M170 344.1h0M174.2 341.6h0M178.4 339.1h0M182.6 336.6h0M186.8 334h0M191 331.5h0M194.4 330.3h0M197.7 329.3h0M200.9 328.3h0M204.2 327.2h0M207.5 326.2h0M210.7 325.2h0M214 324.2h0M217.2 323.2h0M220.5 322.2h0M223.7 321.2h0M227 320.2h0M230.2 319.2h0M139.4 349.9h0M143.6 349.7h0M147.8 349.5h0M152 349.3h0M156.2 349.1h0M160.4 348.9h0M164.5 347.8h0M168.7 345.4h0M172.9 343h0M177.1 340.6h0M181.3 338.2h0M185.5 335.9h0M189.7 333.5h0M193 332.4h0M196.3 331.5h0M199.5 330.5h0M202.8 329.6h0M206.1 328.7h0M209.3 327.8h0M212.6 326.9h0M215.8 325.9h0M219.1 325h0M222.3 324.1h0M225.6 323.2h0M228.9 322.2h0M138 351.1h0M142.1 351h0M146.3 351h0M150.5 350.9h0M154.6 350.8h0M158.8 350.7h0M162.9 349.4h0M167.1 347.2h0M171.2 345.1h0M175.4 342.9h0M179.6 340.7h0M183.7 338.5h0M187.8 336.3h0M191.1 335.5h0M194.4 334.7h0M197.6 333.9h0M200.9 333.2h0M204.2 332.4h0M207.4 331.6h0M210.7 330.8h0M214 330h0M217.2 329.2h0M220.5 328.4h0M223.8 327.6h0M227 326.8h0M135.5 352.4h0M139.6 352.4h0M143.7 352.4h0M147.8 352.4h0M152 352.5h0M156.1 352.5h0M160.2 351.7h0M164.4 349.7h0M168.5 347.7h0M172.6 345.6h0M176.7 343.6h0M180.9 341.6h0M185 339.6h0M188.3 338.9h0M191.6 338.2h0M194.9 337.5h0M198.2 336.9h0M201.4 336.2h0M204.7 335.6h0M208 334.9h0M211.2 334.3h0M214.5 333.6h0M217.8 332.9h0M221 332.3h0M224.3 331.6h0M133.8 354h0M137.9 354.2h0M142 354.4h0M146.1 354.6h0M150.2 354.7h0M154.3 354.9h0M158.4 353.8h0M162.5 352h0M166.6 350.3h0M170.7 348.6h0M174.7 346.8h0M178.8 345.1h0M182.8 343.6h0M186 343.1h0M189.3 342.6h0M192.6 342.1h0M195.9 341.6h0M199.2 341.1h0M202.4 340.7h0M205.7 340.2h0M209 339.7h0M212.3 339.2h0M215.5 338.7h0M218.8 338.3h0M222.1 337.8h0M128.5 355.9h0M132.5 356.2h0M136.5 356.5h0M140.5 356.8h0M144.6 357.2h0M148.6 357.5h0M152.6 357.5h0M156.6 356h0M160.6 354.5h0M164.6 353h0M168.6 351.5h0M172.7 350.1h0M176.7 348.6h0M180.2 347.9h0M183.4 347.6h0M186.7 347.3h0M189.9 347h0M193.2 346.7h0M196.5 346.4h0M199.7 346h0M203 345.7h0M206.3 345.4h0M209.5 345.1h0M212.8 344.8h0M216 344.5h0M126.3 358.8h0M130.2 359.3h0M134.2 359.8h0M138.1 360.2h0M142.1 360.7h0M146 361.2h0M150 360.2h0M153.9 359h0M157.9 357.8h0M161.8 356.6h0M165.8 355.5h0M169.7 354.3h0M173.4 353.5h0M176.7 353.3h0M180 353.2h0M183.2 353.1h0M186.5 352.9h0M189.8 352.8h0M193 352.6h0M196.3 352.5h0M199.6 352.3h0M202.8 352.2h0M206.1 352h0M209.4 351.9h0M212.6 351.8h0M117 361.5h0M120.9 362.1h0M124.8 362.7h0M128.7 363.3h0M132.6 364h0M136.5 364.6h0M140.3 365.1h0M144.2 364.3h0M148.1 363.4h0M152 362.5h0M155.9 361.7h0M159.7 360.8h0M163.6 359.9h0M167.2 359.5h0M170.5 359.6h0M173.7 359.6h0M177 359.6h0M180.3 359.7h0M183.6 359.7h0M186.9 359.7h0M190.1 359.7h0M193.4 359.8h0M196.7 359.8h0M200 359.8h0M203.3 359.9h0M112.8 365.5h0M116.6 366.2h0M120.4 366.9h0M124.2 367.6h0M128 368.3h0M131.8 369h0M135.6 368.8h0M139.4 368.2h0M143.2 367.7h0M147 367.1h0M150.8 366.5h0M154.6 366h0M158.3 365.5h0M161.6 365.7h0M164.9 365.8h0M168.2 366h0M171.4 366.1h0M174.7 366.3h0M178 366.4h0M181.3 366.6h0M184.6 366.8h0M187.9 366.9h0M191.2 367.1h0M194.5 367.2h0M197.8 367.4h0M103.4 369.7h0M107.1 370.6h0M110.8 371.4h0M114.5 372.2h0M118.2 373h0M121.9 373.8h0M125.6 374.2h0M129.3 374h0M133 373.8h0M136.6 373.6h0M140.3 373.3h0M144 373.1h0M147.7 372.9h0M151.1 373.2h0M154.4 373.5h0M157.7 373.8h0M161 374.1h0M164.3 374.5h0M167.6 374.8h0M170.9 375.1h0M174.2 375.4h0M177.5 375.7h0M180.8 376h0M184.1 376.3h0M187.4 376.7h0M93.5 375.1h0M97.1 376h0M100.6 376.9h0M104.1 377.8h0M107.7 378.7h0M111.2 379.6h0M114.7 380.1h0M118.3 380.3h0M121.8 380.4h0M125.3 380.6h0M128.9 380.8h0M132.4 381h0M135.9 381.2h0M139.2 381.7h0M142.5 382.1h0M145.8 382.6h0M149.1 383.1h0M152.3 383.5h0M155.6 384h0M158.9 384.5h0M162.2 384.9h0M165.5 385.4h0M168.7 385.8h0M172 386.3h0M175.3 386.8h0M80.9 380.3h0M84.2 381.3h0M87.5 382.2h0M90.8 383.2h0M94.1 384.2h0M97.5 385.2h0M100.8 386.2h0M104.1 386.8h0M107.4 387.4h0M110.7 388h0M114.1 388.6h0M117.4 389.2h0M120.7 389.8h0M124 390.4h0M127.2 391h0M130.4 391.7h0M133.6 392.3h0M136.8 392.9h0M140.1 393.5h0M143.3 394.1h0M146.5 394.7h0M149.7 395.3h0M152.9 395.9h0M156.2 396.6h0M159.4 397.2h0M70.7 385.5h0M73.8 386.5h0M76.8 387.6h0M79.9 388.6h0M82.9 389.7h0M86 390.8h0M89.1 391.8h0M92.1 392.8h0M95.2 393.8h0M98.3 394.8h0M101.3 395.7h0M104.4 396.7h0M107.5 397.7h0M110.5 398.5h0M113.7 399.3h0M116.8 400h0M119.9 400.7h0M123 401.5h0M126.1 402.2h0M129.2 402.9h0M132.3 403.7h0M135.4 404.4h0M138.5 405.2h0M141.6 405.9h0M144.7 406.6h0" stroke="#4a3a30" stroke-opacity="0.42" stroke-width="0.9" stroke-linecap="round" fill="none"/>
<polygon points="179,325.5 187,319 195.5,313.6 204.5,308.2 213.6,303.2 221.4,298.6 227,295 233.4,289.8 241.4,283.6 238.8,301.4 190,320.5" fill="#e9b484"/>
<polyline points="190,320.5 238.8,301.4" fill="none" stroke="#63a35a" stroke-width="1.0"/>
<polyline points="163,341 170,333 179,325.2 190,320.5" fill="none" stroke="#3d5f86" stroke-width="1.3" stroke-opacity="0.85"/>
<polyline points="166,342 170,336.2 179,328.4 190,323.1" fill="none" stroke="#58504c" stroke-width="0.9" stroke-opacity="0.85"/>
<polyline points="170,342.9 170,339.2 179,331.4 190,325.5" fill="none" stroke="#58504c" stroke-width="0.9" stroke-opacity="0.85"/>
<polyline points="179,325.2 183,321.6 187,318.8 191,316.2 195.5,313.4 200,310.6 204.5,308 209,305.5 213.6,303 217.5,300.8 221.4,298.4" fill="none" stroke="#1f77b4" stroke-width="1.8" stroke-linejoin="round" stroke-linecap="round"/>
<polyline points="221.4,298.8 227,294.8 233.4,289.6 241.4,283.5" fill="none" stroke="#1f77b4" stroke-width="1.2" stroke-dasharray="1.2 0.8"/>
<path d="M237.5 308.0h0M235.6 314.0h0M233.5 320.5h0M231.0 327.0h0M228.0 333.5h0M224.0 341.0h0M219.0 349.0h0M214.0 355.5h0M208.0 362.5h0M202.0 369.0h0M195.0 376.0h0M231.5 316.0h0M229.0 323.0h0M226.0 330.0h0M222.0 338.0h0M217.0 346.0h0M63.0 379.0h0M65.5 380.0h0M68.0 381.0h0M71.0 382.0h0" stroke="#2f55a0" stroke-width="1.5" stroke-linecap="round" stroke-opacity="0.9"/>
<text x="31.2" y="293.2" font-size="7.6" fill="#444" text-anchor="middle" dominant-baseline="central" transform="rotate(-11.9 31.2 293.2)">0.45</text>
<text x="34.1" y="311.6" font-size="7.6" fill="#444" text-anchor="middle" dominant-baseline="central" transform="rotate(-13.7 34.1 311.6)">0.4</text>
<text x="35.7" y="330.2" font-size="7.6" fill="#444" text-anchor="middle" dominant-baseline="central" transform="rotate(-15.5 35.7 330.2)">0.35</text>
<text x="38.5" y="346.8" font-size="7.6" fill="#444" text-anchor="middle" dominant-baseline="central" transform="rotate(-17.2 38.5 346.8)">0.3</text>
<text x="41.7" y="364.2" font-size="7.6" fill="#444" text-anchor="middle" dominant-baseline="central" transform="rotate(-19.1 41.7 364.2)">0.25</text>
<text x="44.1" y="380" font-size="7.6" fill="#444" text-anchor="middle" dominant-baseline="central" transform="rotate(-20.8 44.1 380)">0.2</text>
<text x="46.1" y="394.6" font-size="7.6" fill="#444" text-anchor="middle" dominant-baseline="central" transform="rotate(-22.4 46.1 394.6)">0.15</text>
<text x="21.8" y="356.6" font-size="8.8" fill="#444" text-anchor="middle" dominant-baseline="central" transform="rotate(82 21.8 356.6)">implied volatility</text>
<text x="49.8" y="408.1" font-size="7.6" fill="#444" text-anchor="middle" dominant-baseline="central" transform="rotate(-24 49.8 408.1)">1.1</text>
<text x="66.5" y="422" font-size="7.6" fill="#444" text-anchor="middle" dominant-baseline="central" transform="rotate(-26.1 66.5 422)">1.05</text>
<text x="85.6" y="436" font-size="7.6" fill="#444" text-anchor="middle" dominant-baseline="central" transform="rotate(-28.5 85.6 436)">1</text>
<text x="106.6" y="454.3" font-size="7.6" fill="#444" text-anchor="middle" dominant-baseline="central" transform="rotate(-31.3 106.6 454.3)">0.95</text>
<text x="130.2" y="474.2" font-size="7.6" fill="#444" text-anchor="middle" dominant-baseline="central" transform="rotate(-34.7 130.2 474.2)">0.9</text>
<text x="156.3" y="475.4" font-size="7.6" fill="#444" text-anchor="middle" dominant-baseline="central" transform="rotate(35.8 156.3 475.4)">1</text>
<text x="177.6" y="458.3" font-size="7.6" fill="#444" text-anchor="middle" dominant-baseline="central" transform="rotate(32.8 177.6 458.3)">0.8</text>
<text x="196" y="443.4" font-size="7.6" fill="#444" text-anchor="middle" dominant-baseline="central" transform="rotate(30.2 196 443.4)">0.6</text>
<text x="212.9" y="430.3" font-size="7.6" fill="#444" text-anchor="middle" dominant-baseline="central" transform="rotate(28 212.9 430.3)">0.4</text>
<text x="228.5" y="418.5" font-size="7.6" fill="#444" text-anchor="middle" dominant-baseline="central" transform="rotate(26 228.5 418.5)">0.2</text>
<text x="242.1" y="407.2" font-size="7.6" fill="#444" text-anchor="middle" dominant-baseline="central" transform="rotate(24.3 242.1 407.2)">0</text>
<text x="68" y="447.5" font-size="8.8" fill="#444" text-anchor="middle" dominant-baseline="central">m</text>
<text x="222.4" y="447.5" font-size="8.8" fill="#444" text-anchor="middle" dominant-baseline="central">tau</text>
</g>
<g id="panel-d">
<line x1="355.5" y1="403" x2="441.6" y2="363.6" stroke="#efefef" stroke-width="0.7"/>
<line x1="368.3" y1="412.9" x2="455.4" y2="369.8" stroke="#efefef" stroke-width="0.7"/>
<line x1="382.5" y1="424.1" x2="470.5" y2="376.5" stroke="#efefef" stroke-width="0.7"/>
<line x1="398.4" y1="436.6" x2="487" y2="383.9" stroke="#efefef" stroke-width="0.7"/>
<line x1="416.5" y1="450.7" x2="505.2" y2="392" stroke="#efefef" stroke-width="0.7"/>
<line x1="437.1" y1="466.9" x2="525.3" y2="401" stroke="#efefef" stroke-width="0.7"/>
<line x1="356.4" y1="401" x2="441.7" y2="466.9" stroke="#efefef" stroke-width="0.7"/>
<line x1="380.5" y1="390.1" x2="467.6" y2="447.4" stroke="#efefef" stroke-width="0.7"/>
<line x1="402" y1="380.4" x2="489.8" y2="430.5" stroke="#efefef" stroke-width="0.7"/>
<line x1="421.3" y1="371.6" x2="509.2" y2="415.9" stroke="#efefef" stroke-width="0.7"/>
<line x1="438.8" y1="363.6" x2="526.2" y2="403" stroke="#efefef" stroke-width="0.7"/>
<line x1="356.4" y1="401" x2="342.5" y2="279.5" stroke="#efefef" stroke-width="0.7"/>
<line x1="380.5" y1="390.1" x2="370.6" y2="274" stroke="#efefef" stroke-width="0.7"/>
<line x1="402" y1="380.3" x2="395.7" y2="269.1" stroke="#efefef" stroke-width="0.7"/>
<line x1="421.4" y1="371.6" x2="418.2" y2="264.7" stroke="#efefef" stroke-width="0.7"/>
<line x1="438.8" y1="363.6" x2="438.6" y2="260.7" stroke="#efefef" stroke-width="0.7"/>
<line x1="352.8" y1="389.4" x2="440.2" y2="352.4" stroke="#efefef" stroke-width="0.7"/>
<line x1="351.2" y1="375.2" x2="440.2" y2="340.4" stroke="#efefef" stroke-width="0.7"/>
<line x1="349.4" y1="359.8" x2="440.2" y2="327.5" stroke="#efefef" stroke-width="0.7"/>
<line x1="347.3" y1="342.2" x2="440.2" y2="312.7" stroke="#efefef" stroke-width="0.7"/>
<line x1="345.4" y1="326.1" x2="440.2" y2="299.2" stroke="#efefef" stroke-width="0.7"/>
<line x1="343.4" y1="308.8" x2="440.2" y2="284.6" stroke="#efefef" stroke-width="0.7"/>
<line x1="341.2" y1="290.4" x2="440.2" y2="269.1" stroke="#efefef" stroke-width="0.7"/>
<line x1="441.6" y1="363.6" x2="441.8" y2="260.7" stroke="#efefef" stroke-width="0.7"/>
<line x1="455.7" y1="369.9" x2="458.3" y2="263.9" stroke="#efefef" stroke-width="0.7"/>
<line x1="470.9" y1="376.7" x2="476.2" y2="267.4" stroke="#efefef" stroke-width="0.7"/>
<line x1="487.5" y1="384.1" x2="495.6" y2="271.2" stroke="#efefef" stroke-width="0.7"/>
<line x1="505.5" y1="392.2" x2="516.8" y2="275.3" stroke="#efefef" stroke-width="0.7"/>
<line x1="525.3" y1="401" x2="540.1" y2="279.8" stroke="#efefef" stroke-width="0.7"/>
<line x1="440.2" y1="352.4" x2="529.1" y2="389.5" stroke="#efefef" stroke-width="0.7"/>
<line x1="440.2" y1="340.4" x2="530.8" y2="375.2" stroke="#efefef" stroke-width="0.7"/>
<line x1="440.2" y1="327.5" x2="532.7" y2="359.9" stroke="#efefef" stroke-width="0.7"/>
<line x1="440.2" y1="312.7" x2="534.9" y2="342.4" stroke="#efefef" stroke-width="0.7"/>
<line x1="440.2" y1="299.2" x2="536.9" y2="326.3" stroke="#efefef" stroke-width="0.7"/>
<line x1="440.2" y1="284.6" x2="539" y2="309" stroke="#efefef" stroke-width="0.7"/>
<line x1="440.2" y1="269.1" x2="541.3" y2="290.6" stroke="#efefef" stroke-width="0.7"/>
<line x1="437.1" y1="466.9" x2="525.3" y2="401" stroke="#999999" stroke-width="0.7"/>
<line x1="525.3" y1="401" x2="540.1" y2="279.8" stroke="#999999" stroke-width="0.7"/>
<line x1="354.3" y1="402" x2="340" y2="280" stroke="#e2e2e2" stroke-width="0.8"/>
<line x1="354.3" y1="402" x2="439.4" y2="468.7" stroke="#e6e6e6" stroke-width="0.8"/>
<polygon points="355,357 368,352.5 381.8,349 403.6,345 425.5,341.5 441,339.5 443,345 448,372 460,374.5 450,375 424,376.5 408,379 390,375 370,365" fill="#e9989c"/>
<polygon points="372,365.5 384,369 408,371 430,369.5 448,372 460,374.5 450,375 424,376.5 408,379 390,375" fill="#e28a95"/>
<polygon points="423,363 428,351 436,344.5 441,343.5 449,346.5 447,360 442,372.3 428,369" fill="#d8654c"/>
<polygon points="437,370 441,354 445,345 460,350.5 480,358.5 495,364 518,367.6 505,370 490,372 460,374 445,372.5 428,369" fill="#b2543a"/>
<polygon points="354,359 365,355.5 377,352.4 390,352.8 404,353.5 421,352.4 432,350.5 436,356 432,367 428,368.6 408,370.4 384,368.6 370,364" fill="#e77458"/>
<polygon points="352,343.6 380,349.4 381,355" fill="#84c984"/>
<polygon points="380,349.4 410,358 432,364.2 456,372 456,375.5 432,369.2 410,363.4 381,355" fill="#9c8a52"/>
<polygon points="446,372.8 460,373.8 490,371.8 483,375 486,377.3 497,380.5 486,380 470,378 448,376" fill="#3f9653"/>
<polygon points="441,340 460,347 480,355 495,361 495,364 480,358.5 460,350.5 441,343.5" fill="#8f9a5a"/>
<polygon points="473,353 484,353.5 494,362 495,364 480,358.5" fill="#86b37a"/>
<polygon points="490,360 500,368 518,368.5 519.5,376 510,378.5 486,377.3 481,374 490,372 505,370 518,367.6 495,364" fill="#78b078"/>
<polygon points="441.6,321 456,334 473,353 460,347 441,340" fill="#fbc898"/>
<polygon points="489,378.8 500,376 518,378.5 510.5,391 503,386.5" fill="#fbc898"/>
<path d="M352.0 355.5h0M357.7 354.4h0M363.5 353.2h0M369.2 352.1h0M374.9 351.0h0M380.7 349.8h0M386.4 348.7h0M392.1 347.6h0M397.9 346.4h0M403.6 345.3h0M409.3 344.2h0M415.1 343.0h0M420.8 341.9h0M426.5 340.8h0M432.3 339.6h0M438.0 338.5h0M366.0 357.0h0M371.8 355.9h0M377.7 354.8h0M383.5 353.6h0M389.3 352.5h0M395.2 351.4h0M401.0 350.2h0M406.8 349.1h0M412.7 348.0h0M418.5 346.9h0M424.3 345.8h0M430.2 344.6h0M436.0 343.5h0M388.0 352.5h0M391.8 351.9h0M395.6 351.3h0M399.5 350.7h0M403.3 350.1h0M407.1 349.5h0M410.9 349.0h0M414.7 348.4h0M418.5 347.8h0M422.4 347.2h0M426.2 346.6h0M430.0 346.0h0M402.0 373.5h0M404.9 373.5h0M407.8 373.4h0M410.8 373.4h0M413.7 373.3h0M416.6 373.3h0M419.5 373.3h0M422.5 373.2h0M425.4 373.2h0M428.3 373.2h0M431.2 373.1h0M434.2 373.1h0M437.1 373.0h0M440.0 373.0h0M396.0 368.0h0M399.6 367.9h0M403.2 367.8h0M406.8 367.7h0M410.4 367.6h0M414.0 367.5h0M408.0 376.0h0M411.8 376.0h0M415.5 376.0h0M419.2 376.0h0M423.0 376.0h0M426.8 376.0h0M430.5 376.0h0M434.2 376.0h0M438.0 376.0h0" stroke="#2b5c9e" stroke-width="1.1" stroke-linecap="round" stroke-opacity="0.8"/>
<path d="M499.0 379.0h0M501.3 379.3h0M503.6 379.6h0M505.9 379.9h0M508.1 380.1h0M510.4 380.4h0M512.7 380.7h0M515.0 381.0h0" stroke="#6b6b6b" stroke-width="1" stroke-linecap="round" stroke-opacity="0.7"/>
<path d="M510 394h0M511 397h0M514 392h0M509.5 390.5h0M518.5 379h0" stroke="#1f77b4" stroke-width="1.6" stroke-linecap="round"/>
<polyline points="441.6,321 456,334" fill="none" stroke="#1f77b4" stroke-width="1.2" stroke-dasharray="1.2 0.8"/>
<polyline points="456,334 463,339 470,344 477,348.5 484,353.5 489,358 494,362.5 500,368.5 505,374.5" fill="none" stroke="#1f77b4" stroke-width="2.2" stroke-linejoin="round" stroke-linecap="round"/>
<polyline points="497,380 504,381.5 510,381" fill="none" stroke="#1f77b4" stroke-width="1.2"/>
<text x="326" y="293.7" font-size="7.6" fill="#444" text-anchor="middle" dominant-baseline="central" transform="rotate(-12.1 326 293.7)">0.45</text>
<text x="328.9" y="312.1" font-size="7.6" fill="#444" text-anchor="middle" dominant-baseline="central" transform="rotate(-14 328.9 312.1)">0.4</text>
<text x="330.5" y="330.7" font-size="7.6" fill="#444" text-anchor="middle" dominant-baseline="central" transform="rotate(-15.9 330.5 330.7)">0.35</text>
<text x="333.3" y="347.3" font-size="7.6" fill="#444" text-anchor="middle" dominant-baseline="central" transform="rotate(-17.6 333.3 347.3)">0.3</text>
<text x="336.5" y="364.7" font-size="7.6" fill="#444" text-anchor="middle" dominant-baseline="central" transform="rotate(-19.6 336.5 364.7)">0.25</text>
<text x="338.9" y="380.5" font-size="7.6" fill="#444" text-anchor="middle" dominant-baseline="central" transform="rotate(-21.3 338.9 380.5)">0.2</text>
<text x="340.9" y="395.1" font-size="7.6" fill="#444" text-anchor="middle" dominant-baseline="central" transform="rotate(-23 340.9 395.1)">0.15</text>
<text x="315.3" y="357.1" font-size="8.8" fill="#444" text-anchor="middle" dominant-baseline="central" transform="rotate(82 315.3 357.1)">implied volatility</text>
<text x="344" y="408.1" font-size="7.6" fill="#444" text-anchor="middle" dominant-baseline="central" transform="rotate(-24.6 344 408.1)">1</text>
<text x="357.6" y="419.2" font-size="7.6" fill="#444" text-anchor="middle" dominant-baseline="central" transform="rotate(-26.3 357.6 419.2)">0.8</text>
<text x="372.4" y="431.2" font-size="7.6" fill="#444" text-anchor="middle" dominant-baseline="central" transform="rotate(-28.4 372.4 431.2)">0.6</text>
<text x="389.2" y="444.7" font-size="7.6" fill="#444" text-anchor="middle" dominant-baseline="central" transform="rotate(-30.7 389.2 444.7)">0.4</text>
<text x="408" y="460.2" font-size="7.6" fill="#444" text-anchor="middle" dominant-baseline="central" transform="rotate(-33.5 408 460.2)">0.2</text>
<text x="428.8" y="476.1" font-size="7.6" fill="#444" text-anchor="middle" dominant-baseline="central" transform="rotate(-36.8 428.8 476.1)">0</text>
<text x="453.8" y="473.5" font-size="7.6" fill="#444" text-anchor="middle" dominant-baseline="central" transform="rotate(37.7 453.8 473.5)">0.9</text>
<text x="478.5" y="455.5" font-size="7.6" fill="#444" text-anchor="middle" dominant-baseline="central" transform="rotate(33.3 478.5 455.5)">0.95</text>
<text x="498.9" y="436.6" font-size="7.6" fill="#444" text-anchor="middle" dominant-baseline="central" transform="rotate(29.7 498.9 436.6)">1</text>
<text x="518.6" y="422" font-size="7.6" fill="#444" text-anchor="middle" dominant-baseline="central" transform="rotate(26.8 518.6 422)">1.05</text>
<text x="534.6" y="408.9" font-size="7.6" fill="#444" text-anchor="middle" dominant-baseline="central" transform="rotate(24.3 534.6 408.9)">1.1</text>
<text x="363.4" y="448" font-size="8.8" fill="#444" text-anchor="middle" dominant-baseline="central">tau</text>
<text x="516.5" y="447.5" font-size="8.8" fill="#444" text-anchor="middle" dominant-baseline="central">m</text>
</g>
<text x="128.5" y="247.6" font-family="'Liberation Serif', serif" font-size="11.5" fill="#111" text-anchor="middle">(<tspan font-weight="bold">a</tspan>)</text>
<text x="423.7" y="247.6" font-family="'Liberation Serif', serif" font-size="11.5" fill="#111" text-anchor="middle">(<tspan font-weight="bold">b</tspan>)</text>
<text x="128.5" y="502.2" font-family="'Liberation Serif', serif" font-size="11.5" fill="#111" text-anchor="middle">(<tspan font-weight="bold">c</tspan>)</text>
<text x="424" y="502.8" font-family="'Liberation Serif', serif" font-size="11.5" fill="#111" text-anchor="middle">(<tspan font-weight="bold">d</tspan>)</text>
</svg>
</body></html>
